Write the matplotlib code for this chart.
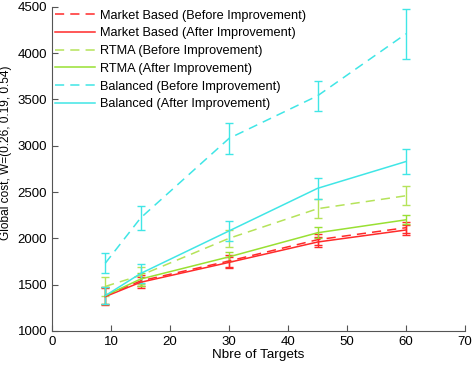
import matplotlib
matplotlib.use('Agg')
import matplotlib.pyplot as plt
from matplotlib.lines import Line2D

plt.rcParams['font.family'] = ['Liberation Sans', 'DejaVu Sans']

# nombre de cibles
targets = [9, 15, 30, 45, 60]

# couts moyens
market_before = [1380, 1540, 1755, 1985, 2115]
market_after = [1370, 1525, 1740, 1960, 2090]
rtma_before = [1480, 1600, 2000, 2320, 2460]
rtma_after = [1380, 1560, 1800, 2060, 2200]
balanced_before = [1730, 2220, 3080, 3540, 4210]
balanced_after = [1380, 1620, 2080, 2540, 2830]

# ecarts (barres d'erreur)
market_before_err = [90, 60, 60, 60, 60]
market_after_err = [90, 60, 60, 50, 50]
rtma_before_err = [100, 90, 90, 100, 100]
rtma_after_err = [90, 70, 50, 60, 50]
balanced_before_err = [110, 130, 170, 160, 270]
balanced_after_err = [90, 100, 110, 110, 140]

red = '#ff2a2a'
green = '#99e033'
green_light = '#b5e35a'
cyan = '#40e6e6'

series = [
    ('Market Based (Before Improvement)', market_before, market_before_err, red, '--'),
    ('Market Based (After Improvement)', market_after, market_after_err, red, '-'),
    ('RTMA (Before Improvement)', rtma_before, rtma_before_err, green_light, '--'),
    ('RTMA (After Improvement)', rtma_after, rtma_after_err, green, '-'),
    ('Balanced (Before Improvement)', balanced_before, balanced_before_err, cyan, '--'),
    ('Balanced (After Improvement)', balanced_after, balanced_after_err, cyan, '-'),
]

fig = plt.figure(figsize=(4.74, 3.66), dpi=100)
ax = fig.add_axes([0.11, 0.096, 0.871, 0.885])

handles = []
for label, vals, err, col, ls in series:
    dash = (6, 4) if ls == '--' else (None, None)
    ax.errorbar(targets, vals, yerr=err, color=col, linestyle=ls, linewidth=1.1,
                elinewidth=1.0, capsize=3, capthick=1.0, dashes=dash)
    handles.append(Line2D([], [], color=col, linestyle=ls, linewidth=1.1,
                          dashes=dash, label=label))

ax.set_xlim(0, 70)
ax.set_ylim(1000, 4500)
ax.set_xticks(range(0, 71, 10))
ax.set_yticks(range(1000, 4501, 500))
ax.spines['top'].set_visible(False)
ax.spines['right'].set_visible(False)
ax.spines['left'].set_color('#555555')
ax.spines['bottom'].set_color('#555555')
ax.tick_params(direction='in', length=4, labelsize=9.5, color='#555555')
ax.tick_params(axis='x', pad=3.5)
ax.set_xlabel('Nbre of Targets', fontsize=9.7, va='baseline')
ax.xaxis.set_label_coords(0.5, -0.085)
ax.set_ylabel('Global cost, W=(0.26, 0.19, 0.54)', fontsize=8.6)
ax.yaxis.set_label_coords(-0.097, 0.55)

ax.legend(handles=handles, loc='upper left', bbox_to_anchor=(0.007, 0.992),
          frameon=False, fontsize=9.2, handlelength=3.1, labelspacing=0.45,
          borderaxespad=0, handletextpad=0.4, borderpad=0)

fig.savefig('out.png', dpi=100)
